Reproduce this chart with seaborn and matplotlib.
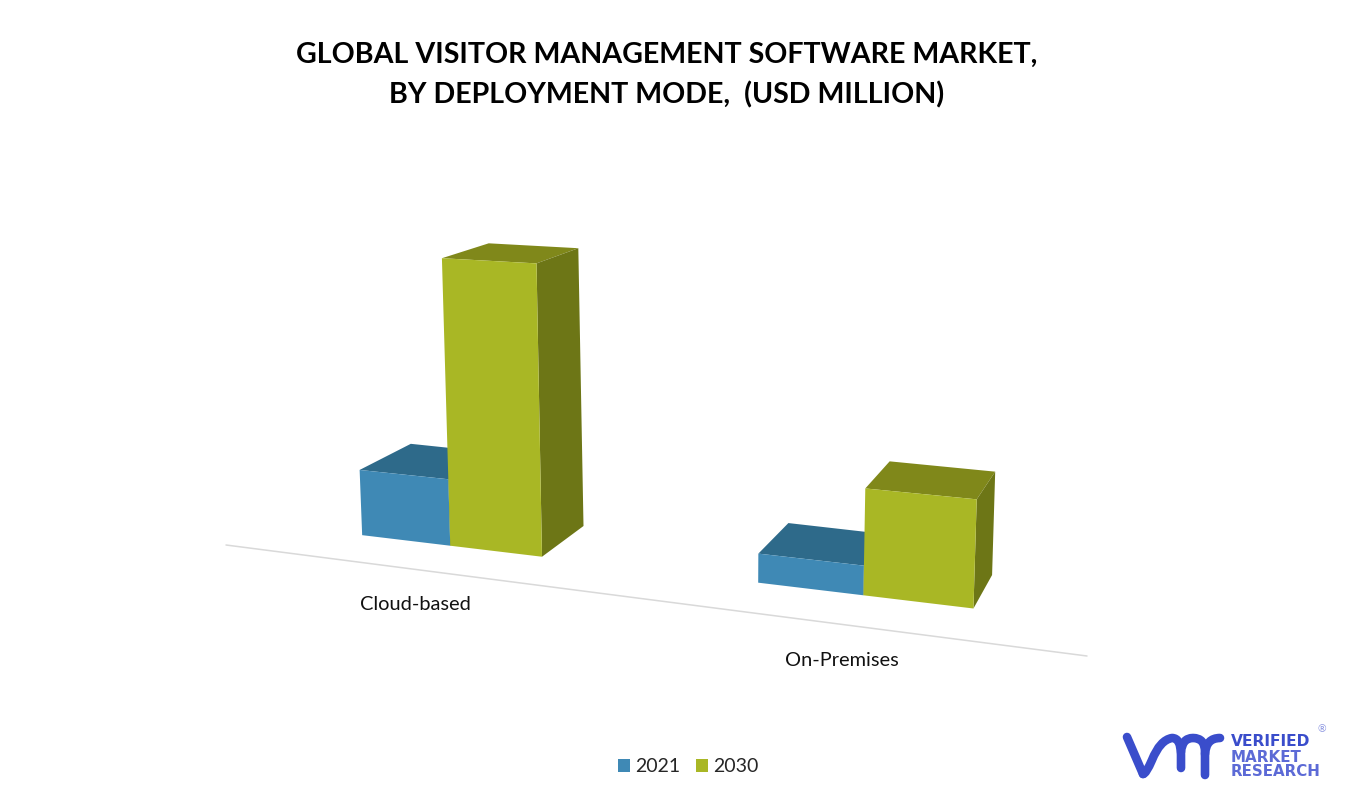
import numpy as np
import pandas as pd
import matplotlib
matplotlib.use("Agg")
import matplotlib.pyplot as plt
from matplotlib.patches import Polygon, PathPatch
from matplotlib.path import Path
from matplotlib.transforms import Affine2D, Transform
import seaborn as sns

# ---- data (arbitrary USD-million-like units) ----
CATEGORIES = ["Cloud-based", "On-Premises"]
YEARS = ["2021", "2030"]
VALUES_2021 = [68, 28]
VALUES_2030 = [287, 100]

TITLE = "GLOBAL VISITOR MANAGEMENT SOFTWARE MARKET,\nBY DEPLOYMENT MODE,  (USD MILLION)"
FRONT = {"2021": "#3F89B5", "2030": "#A9B725"}
TOP = {"2021": "#2E6A8A", "2030": "#80881A"}
SIDE = {"2021": "#2A5F7C", "2030": "#6D7616"}

W, H_PX = 1366, 802
BAR_W = 0.238
DEPTH = 0.053
DEPTH_VP = np.array([1325.0, -23.0])

sns.set_theme(style="white")
plt.rcParams["font.family"] = ["Lato", "DejaVu Sans"]

df = pd.DataFrame({
    "mode": CATEGORIES * 2,
    "year": [YEARS[0]] * 2 + [YEARS[1]] * 2,
    "value": VALUES_2021 + VALUES_2030,
})

fig = plt.figure(figsize=(W / 100, H_PX / 100), dpi=100, facecolor="white")
ax = fig.add_axes([0, 0, 1, 1])
sns.barplot(data=df, x="mode", y="value", hue="year", hue_order=YEARS,
            palette=FRONT, width=2 * BAR_W, gap=0, dodge=True, saturation=1,
            linewidth=0, ax=ax)
ax.set_axis_off()

# pixel space of the reference image -> display
px = Affine2D().scale(1, -1).translate(0, H_PX)


def homography(src, dst):
    """Least-squares plane-to-page camera (scaled so both axes weigh alike)."""
    S = np.diag([400.0, 1.0, 1.0])
    D = np.array([[1, 0, -680.0], [0, 1, -430.0], [0, 0, 1]])
    A = []
    for (x, y), (u, v) in zip(src, dst):
        x, y = x * 400.0, y
        u, v = u - 680.0, v - 430.0
        A.append([x, y, 1, 0, 0, 0, -u * x, -u * y, -u])
        A.append([0, 0, 0, x, y, 1, -v * x, -v * y, -v])
    m = np.linalg.svd(np.array(A))[2][-1].reshape(3, 3)
    return np.linalg.inv(D) @ m @ S


class Projective(Transform):
    input_dims = output_dims = 2
    is_separable = False
    has_inverse = False

    def __init__(self, m):
        super().__init__()
        self.m = m

    def transform_non_affine(self, pts):
        pts = np.asarray(pts, float)
        q = np.c_[pts, np.ones(len(pts))] @ self.m.T
        return q[:, :2] / q[:, 2:3]


# camera of the chart: the front plane of the bars on the page
b = BAR_W
c21, o21 = VALUES_2021
c30, o30 = VALUES_2030
M = homography(
    [(-b, 0), (0, 0), (b, 0), (1 - b, 0), (1, 0), (1 + b, 0),
     (-b, c21), (1 - b, o21), (0, c30), (b, c30), (1, o30), (1 + b, o30)],
    [(362, 535), (451, 546), (543, 557), (758, 584), (863, 597), (972, 610),
     (359, 469), (758, 551), (441, 259), (537, 264), (867, 487), (977, 498)],
)
proj = Projective(M)


def back(p):
    return p + DEPTH * (DEPTH_VP - p)


for z, (year, cont) in enumerate(zip(YEARS, ax.containers)):
    for bar in cont:
        x0, x1 = bar.get_x(), bar.get_x() + bar.get_width()
        v = bar.get_height()
        bl, br, tr, tl = proj.transform_non_affine(
            np.array([(x0, 0), (x1, 0), (x1, v), (x0, v)]))
        ax.add_patch(Polygon([tl, tr, back(tr), back(tl)], closed=True, fc=TOP[year],
                             ec="none", transform=px, clip_on=False, zorder=3 + z))
        ax.add_patch(Polygon([tr, br, back(br), back(tr)], closed=True, fc=SIDE[year],
                             ec="none", transform=px, clip_on=False, zorder=3 + z))
        bar.set_transform(proj + px)
        bar.set_clip_on(False)
        bar.set_edgecolor("none")
        bar.set_zorder(3.5 + z)

# category rule and labels
ax.plot([226, 1087], [545, 656], color="#D9D9D9", lw=1.1, transform=px, clip_on=False, zorder=1)
LABEL_POS = [(415, 605), (842, 660)]
for name, (lx, ly) in zip(CATEGORIES, LABEL_POS):
    ax.text(lx, ly, name, transform=px, ha="center", va="center", fontsize=14.4, color="#111111")

# title
ax.text(667, 75, TITLE, transform=px, ha="center", va="center", fontsize=20.6,
        fontweight="bold", color="black", linespacing=1.61)

# legend
sns.move_legend(ax, loc="center", bbox_to_anchor=(688.5 / W, 1 - 767 / H_PX),
                bbox_transform=fig.transFigure, ncol=2, title=None, frameon=False,
                fontsize=14, handlelength=0.62, handleheight=0.62, handletextpad=0.26,
                columnspacing=0.82)

# logo
LOGO = "#3A4DCB"
logo_paths = [
    Path([(1127, 737), (1143, 774)], [Path.MOVETO, Path.LINETO]),
    Path([(1143, 774), (1146, 774), (1152, 760), (1160, 740), (1172, 738), (1181, 738), (1181, 755), (1181, 768)],
         [Path.MOVETO, Path.CURVE3, Path.CURVE3, Path.CURVE3, Path.CURVE3, Path.CURVE3, Path.CURVE3, Path.LINETO]),
    Path([(1181, 752), (1182, 738), (1193, 738), (1205, 738), (1205, 752), (1205, 775)],
         [Path.MOVETO, Path.CURVE3, Path.CURVE3, Path.CURVE3, Path.CURVE3, Path.LINETO]),
    Path([(1205, 754), (1206, 738), (1220, 738)], [Path.MOVETO, Path.CURVE3, Path.CURVE3]),
]
for p in logo_paths:
    ax.add_patch(PathPatch(p, fc="none", ec=LOGO, lw=6.2, transform=px, clip_on=False,
                           capstyle="round", joinstyle="round", zorder=5))
for text, y, fs, col in [("VERIFIED", 741, 11.2, LOGO), ("MARKET", 757, 10.9, "#5C6AD6"),
                         ("RESEARCH", 771, 10.8, "#5C6AD6")]:
    ax.text(1231, y, text, transform=px, ha="left", va="center", fontsize=fs,
            fontweight="bold", family="DejaVu Sans", color=col)
ax.text(1322, 730, "®", transform=px, ha="center", va="center", fontsize=7.5, color="#8A94E0")

fig.savefig("out.png", dpi=100, facecolor="white")
